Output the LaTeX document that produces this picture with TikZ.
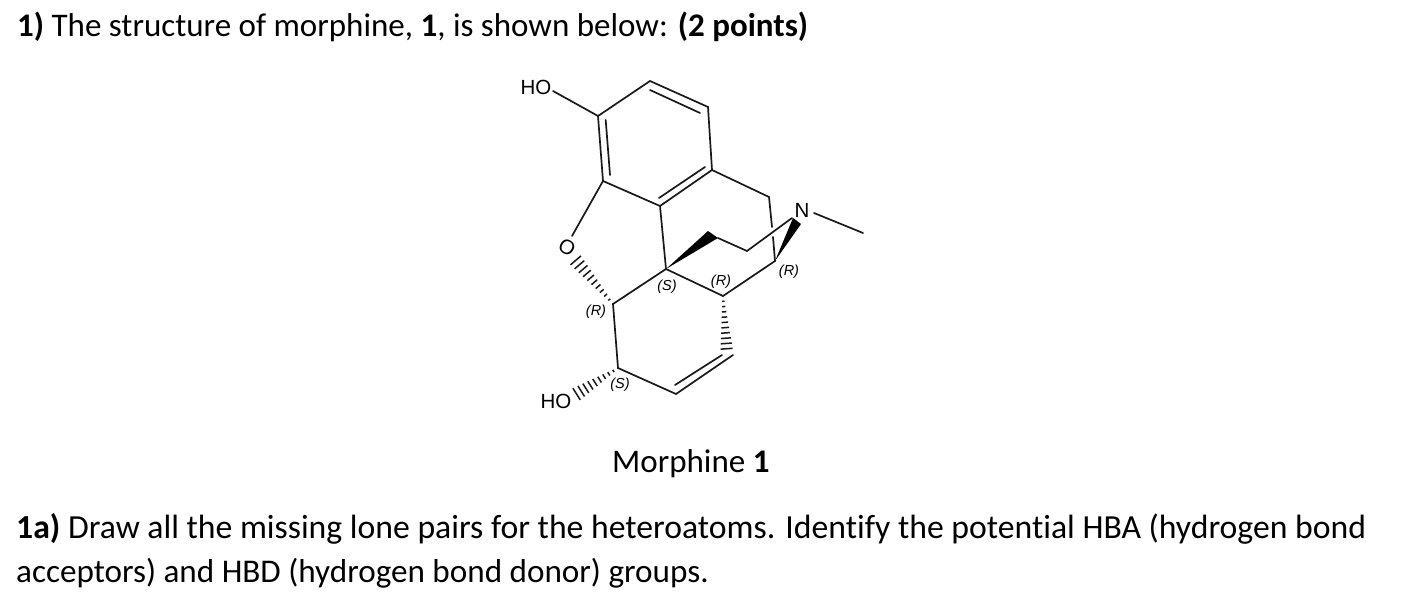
\documentclass[tikz,border=0pt]{standalone}
\usepackage{fontspec}
\setmainfont[Ligatures=NoCommon]{Carlito}
\newfontfamily\arialf{Liberation Sans}
\usetikzlibrary{calc}
\tikzset{
  txt/.style={anchor=base west,inner sep=0pt,font=\fontsize{33}{38}\selectfont},
  atomlbl/.style={inner sep=0pt,font=\arialf\fontsize{20.5}{22}\selectfont},
  stereo/.style={inner sep=0pt,font=\arialf\itshape\fontsize{14.5}{16}\selectfont},
  bond/.style={line width=1.7pt,line cap=round,black!90},
  hashline/.style={line width=1.5pt,black!90},
}
\newcommand{\hashbond}[4]{% from, to, half width, steps
  \foreach \i in {0,...,#4}{
    \pgfmathsetmacro{\tt}{\i/#4}
    \pgfmathsetmacro{\ww}{0.6+#3*\i/#4}
    \draw[hashline] ($(#1)!\tt!(#2)!\ww pt!90:(#2)$) -- ($(#1)!\tt!(#2)!\ww pt!-90:(#2)$);
  }}
\begin{document}
\begin{tikzpicture}[x=1pt,y=-1pt]
\useasboundingbox (0,0) rectangle (1404,612);
\fill[white] (0,0) rectangle (1404,612);
% text
\node[txt] (t1) at (17,37) {\textbf{1)} The structure of morphine, \textbf{1}, is shown below: \textbf{(2 points)}};
\node[txt] (t2) at (612,472) {Morphine \textbf{1}};
\node[txt,font=\fontsize{33.7}{38}\selectfont] (t3) at (16,538) {\textbf{1a)} Draw all the missing lone pairs for the heteroatoms. Identify the potential HBA (hydrogen bond};
\node[txt,font=\fontsize{33.15}{38}\selectfont] (t4) at (16,582) {acceptors) and HBD (hydrogen bond donor) groups.};
% atoms
\coordinate (c1) at (598,116);
\coordinate (c2) at (650,81);
\coordinate (c3) at (708,107);
\coordinate (c4) at (712,170);
\coordinate (c5) at (660,206);
\coordinate (c6) at (603,181);
\coordinate (c7) at (769,197);
\coordinate (c8) at (775,261);
\coordinate (c9) at (723,296);
\coordinate (c10) at (666,269);
\coordinate (c11) at (613,304);
\coordinate (c12) at (618,368);
\coordinate (c13) at (676,394);
\coordinate (c14) at (733,355);
\coordinate (c15) at (747,251);
\coordinate (c16) at (718,238);
\coordinate (c17) at (708,231);
\coordinate (c18) at (863,233);
\coordinate (crossa) at (772,227);
\coordinate (crossb) at (773,237);
\coordinate (nb) at (792,218);
\coordinate (wn1) at (793,218);
\coordinate (wn2) at (801,224);
\coordinate (ho1e) at (553,91);
\coordinate (oe) at (572,236);
\coordinate (oh) at (572,256);
\coordinate (hoh) at (572,397);
\coordinate (me) at (814,213);
\coordinate (d1a) at (605.7,120);
\coordinate (d1b) at (610,175);
\coordinate (d2a) at (650,90);
\coordinate (d2b) at (700,113);
\coordinate (d3a) at (659,198);
\coordinate (d3b) at (705,167);
\coordinate (d4a) at (675,385);
\coordinate (d4b) at (722,355);
\coordinate (hend) at (727,354);
% labels
\node[atomlbl] (ho1) at (536,87) {HO};
\node[atomlbl,rotate=-30] (o1) at (567,247) {O};
\node[atomlbl] (n1) at (802,210) {N};
\node[atomlbl] (ho2) at (556,401) {HO};
\node[stereo] (s1) at (667,287) {(S)};
\node[stereo] (s2) at (721,282) {(R)};
\node[stereo] (s3) at (789,272) {(R)};
\node[stereo] (s4) at (596,312) {(R)};
\node[stereo] (s5) at (620,385) {(S)};
% bonds
\draw[bond] (ho1e) -- (c1) -- (c2) -- (c3) -- (c4) -- (c5) -- (c6) -- (c1);
\draw[bond] (d1a) -- (d1b);
\draw[bond] (d2a) -- (d2b);
\draw[bond] (d3a) -- (d3b);
\draw[bond] (c6) -- (oe);
\draw[bond] (c5) -- (c10);
\draw[bond] (c4) -- (c7) -- (crossa);
\draw[bond] (crossb) -- (c8);
\draw[bond] (c8) -- (c9) -- (c10) -- (c11) -- (c12) -- (c13) -- (c14);
\draw[bond] (d4a) -- (d4b);
\draw[bond] (nb) -- (c15) -- (c16);
\draw[bond] (me) -- (c18);
% wedges
\fill[black] (c10) -- (c17) -- (c16) -- cycle;
\fill[black] (c8) -- (wn1) -- (wn2) -- cycle;
% hashes
\hashbond{c11}{oh}{7}{11}
\hashbond{c9}{hend}{6}{11}
\hashbond{c12}{hoh}{7}{10}
\end{tikzpicture}
\end{document}
